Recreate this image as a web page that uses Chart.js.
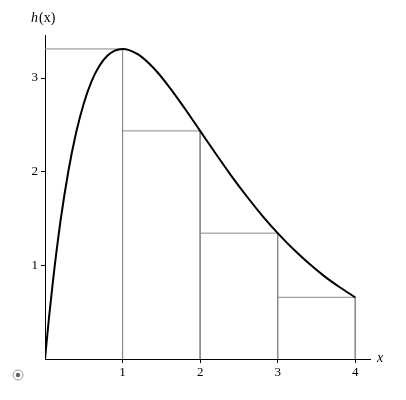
<!DOCTYPE html>
<html><head><script src="https://cdn.jsdelivr.net/npm/chart.js@4"></script>
<style>body{margin:0;background:#fff}#w{width:406px;height:400px}</style></head>
<body><div id="w"><canvas id="c"></canvas></div>
<script>
const xs=[0,0.05,0.1,0.2,0.3,0.4,0.5,0.6,0.7,0.8,0.9,1.0,1.2,1.4,1.6,1.8,2.0,2.2,2.4,2.6,2.8,3.0,3.2,3.4,3.6,3.8,4.0];
const hs=[0,0.428,0.814,1.474,2.000,2.413,2.729,2.964,3.128,3.235,3.293,3.311,3.253,3.107,2.907,2.678,2.436,2.194,1.959,1.738,1.532,1.344,1.174,1.022,0.885,0.766,0.659];
const stepX=[1,2,3,4];
const stepH=[3.311,2.436,1.344,0.659];
const xTicks=[1,2,3,4];
const yTicks=[1,2,3];
const curve=xs.map((x,i)=>({x,y:hs[i]}));
const gray='#8a8a8a';
const ds=[{data:curve,borderColor:'#000',borderWidth:2,pointRadius:0,tension:0.4,cubicInterpolationMode:'monotone'}];
stepX.forEach((x,i)=>{
  const l=x-1,h=stepH[i];
  ds.push({data:[{x:l,y:h},{x:x,y:h},{x:x,y:0}],borderColor:gray,borderWidth:1,pointRadius:0,tension:0});
});
const deco={id:'deco',afterDraw(ch){const c=ch.ctx;c.save();c.fillStyle='#000';
 c.font='italic 14px "Liberation Serif"';c.fillText('h',31,22);
 c.font='14px "Liberation Serif"';c.fillText('(x)',39,22);
 c.font='italic 14px "Liberation Serif"';c.fillText('x',377,362);
 c.strokeStyle='#999';c.lineWidth=1;c.beginPath();c.arc(18,375,5,0,Math.PI*2);c.stroke();
 c.fillStyle='#666';c.beginPath();c.arc(18,375,2.2,0,Math.PI*2);c.fill();c.restore();}};
new Chart(document.getElementById('c'),{type:'line',data:{datasets:ds},plugins:[deco],
options:{responsive:true,maintainAspectRatio:false,animation:false,
 layout:{padding:{top:35,right:36,left:0,bottom:0}},
 plugins:{legend:{display:false},tooltip:{enabled:false}},
 scales:{
  x:{type:'linear',min:0,max:4.19,afterBuildTicks(s){s.ticks=xTicks.map(v=>({value:v}));},
   afterFit(s){s.height=41;},
   grid:{drawOnChartArea:false,drawTicks:true,tickLength:4,color:'#000'},border:{color:'#000'},
   ticks:{color:'#000',font:{family:'Liberation Serif',size:13},padding:2,maxRotation:0}},
  y:{type:'linear',min:0,max:3.46,afterBuildTicks(s){s.ticks=yTicks.map(v=>({value:v}));},
   afterFit(s){s.width=45;},
   grid:{drawOnChartArea:false,drawTicks:true,tickLength:4,color:'#000'},border:{color:'#000'},
   ticks:{color:'#000',font:{family:'Liberation Serif',size:13},padding:3}}
 }}});
</script></body></html>
